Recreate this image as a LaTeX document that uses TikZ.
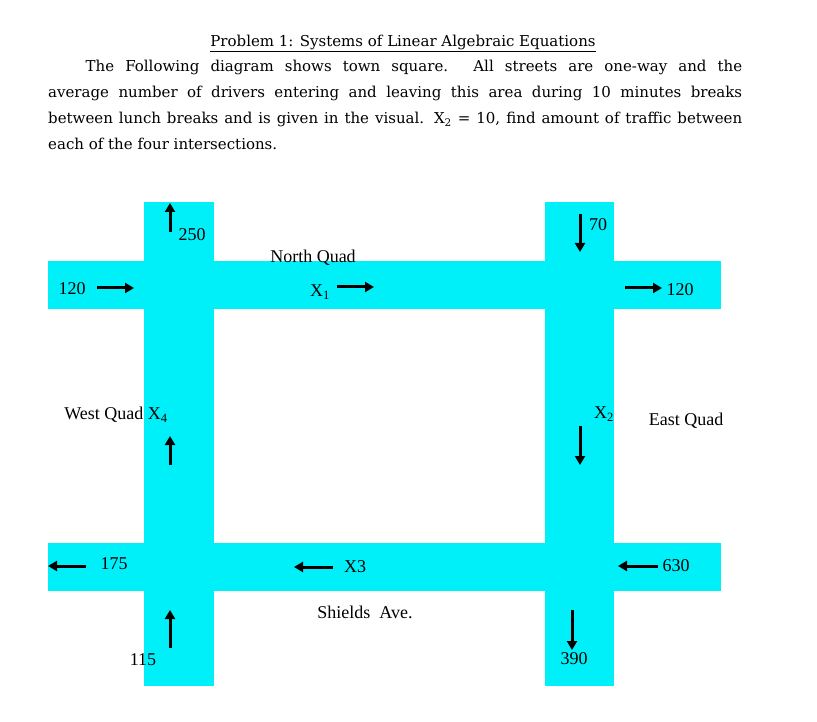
\documentclass[tikz,border=0pt]{standalone}
\usepackage{fontspec}
\setmainfont{Liberation Serif}
\newfontfamily\para{DejaVu Serif}
\usetikzlibrary{arrows.meta}
\definecolor{road}{RGB}{0,240,250}
\tikzset{road/.style={fill=road,draw=none},
 arr/.style={line width=3pt,-{Triangle[length=9pt,width=10pt]}},
 lbl/.style={font=\fontsize{18}{20}\selectfont,inner sep=0pt},
 txt/.style={font=\para\fontsize{15}{26}\selectfont,inner sep=0pt,anchor=north west}}
\begin{document}
\begin{tikzpicture}[x=1pt,y=-1pt]
\useasboundingbox (0,0) rectangle (817,722);
\fill[road] (48,261) rectangle (721,309);
\fill[road] (48,543) rectangle (721,591);
\fill[road] (144,202) rectangle (214,686);
\fill[road] (545,202) rectangle (614,686);
\node[txt,anchor=center] (title) at (403,43) {\underline{Problem 1: Systems of Linear Algebraic Equations}};
\node[txt,text width=694pt,align=justify] (para) at (48,60) {\hspace*{2.5em}The Following diagram shows town square. All streets are one-way and the\linebreak average number of drivers entering and leaving this area during 10 minutes breaks\linebreak between lunch breaks and is given in the visual. X\textsubscript{2} = 10, find amount of traffic between\linebreak each of the four intersections.};
% arrows and labels
\coordinate (a1s) at (170,232); \coordinate (a1e) at (170,203);
\draw[arr] (a1s) -- (a1e); \node[lbl] (l250) at (192,235) {250};
\coordinate (a2s) at (580,214); \coordinate (a2e) at (580,252);
\draw[arr] (a2s) -- (a2e); \node[lbl] (l70) at (598,225) {70};
\node[lbl] (l120a) at (72,289) {120};
\coordinate (a3s) at (97,288); \coordinate (a3e) at (134,288);
\draw[arr] (a3s) -- (a3e);
\node[lbl] (nq) at (313,258) {North Quad};
\node[lbl] (x1) at (320,292) {X\textsubscript{1}};
\coordinate (a4s) at (337,287); \coordinate (a4e) at (374,287);
\draw[arr] (a4s) -- (a4e);
\coordinate (a5s) at (625,288); \coordinate (a5e) at (662,288);
\draw[arr] (a5s) -- (a5e); \node[lbl] (l120b) at (680,290) {120};
\node[lbl] (wq) at (116,415) {West Quad X\textsubscript{4}};
\coordinate (a6s) at (170,465); \coordinate (a6e) at (170,436);
\draw[arr] (a6s) -- (a6e);
\node[lbl] (x2) at (604,414) {X\textsubscript{2}};
\coordinate (a7s) at (580,426); \coordinate (a7e) at (580,465);
\draw[arr] (a7s) -- (a7e);
\node[lbl] (eq) at (686,421) {East Quad};
\coordinate (a8s) at (86,566); \coordinate (a8e) at (48,566);
\draw[arr] (a8s) -- (a8e); \node[lbl] (l175) at (114,564) {175};
\coordinate (a9s) at (333,567); \coordinate (a9e) at (294,567);
\draw[arr] (a9s) -- (a9e); \node[lbl] (x3) at (355,567) {X3};
\coordinate (a10s) at (658,566); \coordinate (a10e) at (618,566);
\draw[arr] (a10s) -- (a10e); \node[lbl] (l630) at (676,566) {630};
\node[lbl] (sa) at (365,612) {Shields\ \ Ave.};
\coordinate (a11s) at (170,648); \coordinate (a11e) at (170,610);
\draw[arr] (a11s) -- (a11e); \node[lbl] (l115) at (143,660) {115};
\coordinate (a12s) at (572,610); \coordinate (a12e) at (572,650);
\draw[arr] (a12s) -- (a12e); \node[lbl] (l390) at (574,659) {390};
\end{tikzpicture}
\end{document}
